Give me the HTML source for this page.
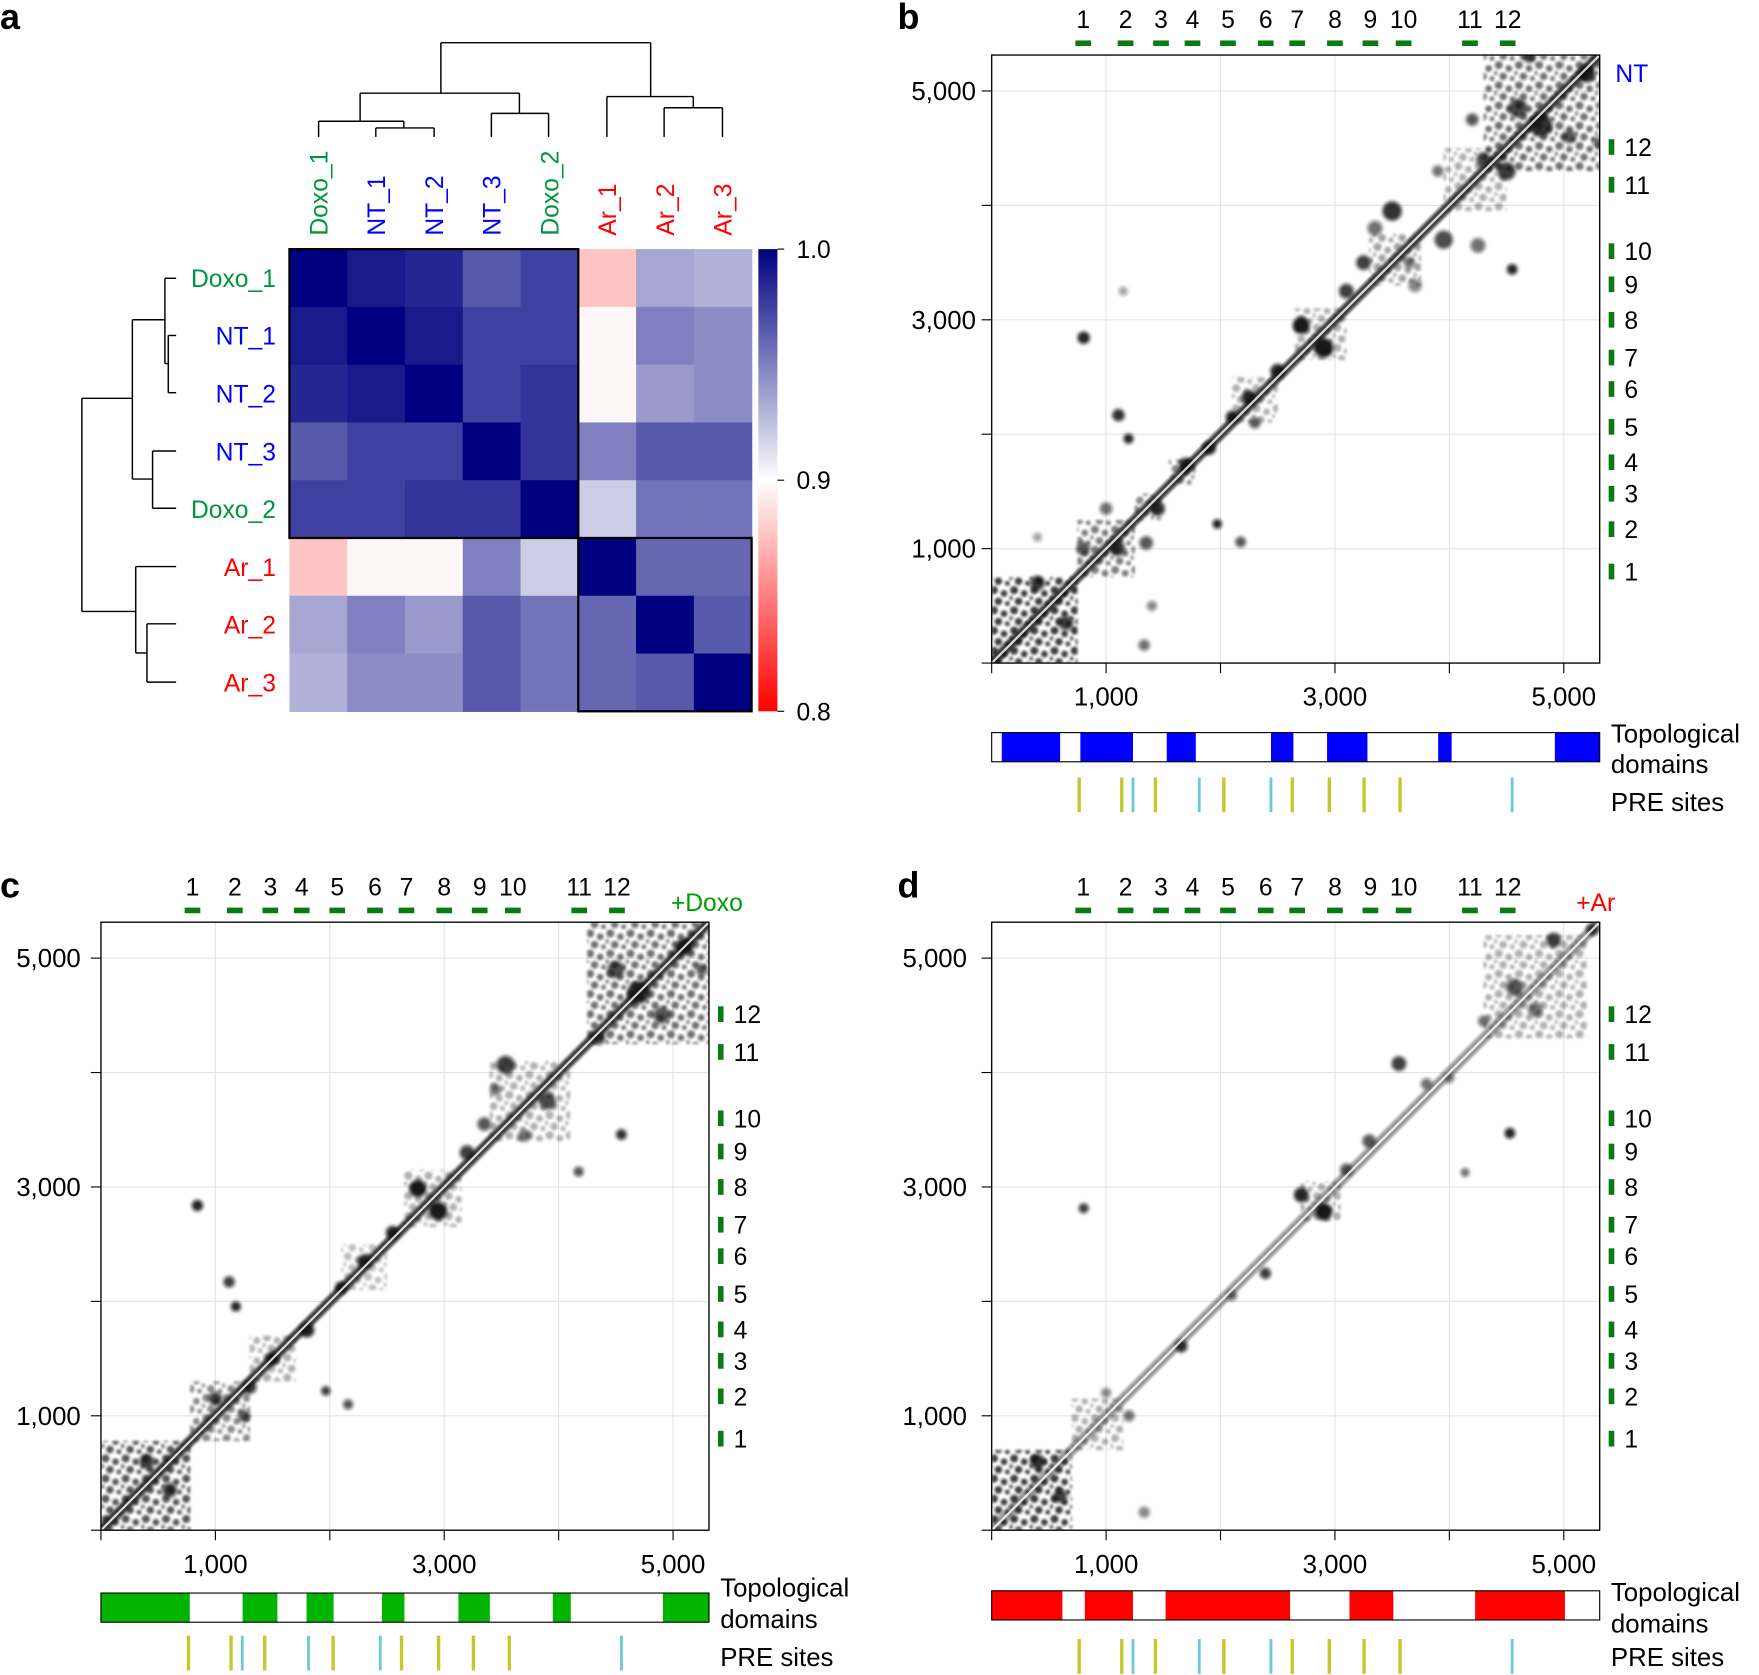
<!DOCTYPE html>
<html><head><meta charset="utf-8">
<style>
html,body{margin:0;padding:0;background:#fff;}
svg{display:block;font-family:"Liberation Sans",sans-serif;}
</style></head>
<body>
<svg id="fig" width="1759" height="1675" viewBox="0 0 1568 1493" xmlns="http://www.w3.org/2000/svg">
<defs>
<filter id="blur1" x="-50%" y="-50%" width="200%" height="200%"><feGaussianBlur stdDeviation="1.2"/></filter>
<filter id="blur2" x="-50%" y="-50%" width="200%" height="200%"><feGaussianBlur stdDeviation="1.6"/></filter>
<pattern id="speck" width="18" height="18" patternUnits="userSpaceOnUse">
<circle cx="4" cy="4" r="3.6" fill="#111"/><circle cx="13" cy="7" r="3" fill="#111"/>
<circle cx="8" cy="14" r="3.4" fill="#111"/><circle cx="16" cy="16" r="2.2" fill="#111"/>
<circle cx="1" cy="11" r="1.8" fill="#111"/>
</pattern>
<linearGradient id="cbar" x1="0" y1="1" x2="0" y2="0">
<stop offset="0" stop-color="#ff0000"/><stop offset="0.5" stop-color="#ffffff"/><stop offset="1" stop-color="#000080"/>
</linearGradient>
</defs>
<text x="0" y="26" font-size="32" font-weight="bold">a</text>
<text x="800" y="26" font-size="32" font-weight="bold">b</text>
<text x="0" y="800" font-size="32" font-weight="bold">c</text>
<text x="800" y="800" font-size="32" font-weight="bold">d</text>
<g id="pa"></g>
<g id="pb"></g>
<g id="pc"></g>
<g id="pd"></g>
</svg>
<script>
// ---------- Panel a data ----------
const samples = ['Doxo_1','NT_1','NT_2','NT_3','Doxo_2','Ar_1','Ar_2','Ar_3'];
const sampleGroup = ['doxo','nt','nt','nt','doxo','ar','ar','ar'];
const corrRows = [
 [1.0,0.99,0.985,0.965,0.975,0.877,0.935,0.93],
 [0.99,1.0,0.99,0.975,0.975,0.897,0.95,0.945],
 [0.985,0.99,1.0,0.975,0.98,0.897,0.94,0.945],
 [0.965,0.975,0.975,1.0,0.98,0.95,0.965,0.965],
 [0.975,0.975,0.98,0.98,1.0,0.92,0.955,0.955],
 [0.877,0.897,0.897,0.95,0.92,1.0,0.96,0.96],
 [0.935,0.95,0.94,0.965,0.955,0.96,1.0,0.965],
 [0.93,0.945,0.945,0.965,0.955,0.96,0.965,1.0]
];
const colorbarTicks = [0.8,0.9,1.0];
const colorbarLabels = ['0.8','0.9','1.0'];

// ---------- Hi-C shared data ----------
const tadMarkers = [800,1170,1480,1755,2065,2395,2670,3000,3310,3600,4180,4510];
const tadLabels = ['1','2','3','4','5','6','7','8','9','10','11','12'];
const preOlive = [765,1137,1431,2029,2627,2951,3255,3569];
const preCyan = [1235,1814,2441,4549];
const axisTicks = [0,1000,2000,3000,4000,5000];
const axisTickLabels = ['','1,000','','3,000','','5,000'];

const domainsB = [[88,598],[775,1235],[1530,1784],[2441,2637],[2931,3284],[3902,4020],[4922,5314]];
const domainsC = [[0,776],[1238,1542],[1797,2033],[2456,2652],[3124,3399],[3949,4106],[4912,5314]];
const domainsD = [[0,618],[814,1235],[1520,2608],[3127,3510],[4225,5010]];

// blocks: [start,end,alpha]
const blocksB = [[0,750,0.8],[750,1250,0.55],[1250,1480,0.5],[1550,1780,0.5],[4300,5314,0.6],[3950,4500,0.35],[3300,3750,0.4],[2650,3100,0.35],[2100,2500,0.3]];
const blocksC = [[0,780,0.7],[780,1300,0.5],[1300,1700,0.35],[4250,5314,0.6],[3400,4100,0.35],[2650,3150,0.35],[2100,2500,0.25]];
const blocksD = [[0,700,0.8],[700,1150,0.3],[4300,5200,0.35],[2700,3050,0.3]];

// spots: [x,y,size,alpha]
const spotsB = [[804,2843,70,0.9],[1108,2167,70,0.85],[1196,1961,50,0.9],[1971,1216,45,0.9],[2176,1059,55,0.7],[4549,3441,55,0.9],
 [3500,3950,130,0.85],[3350,3800,90,0.6],[2706,2951,110,0.95],[2902,2755,130,0.95],[2500,2550,90,0.9],[2250,2320,90,0.9],
 [2100,2150,70,0.9],[1900,1880,80,0.9],[1700,1730,90,0.9],[3950,3700,120,0.75],[4250,3650,90,0.6],[5200,5150,110,0.9],
 [4800,4700,160,0.85],[4600,4850,130,0.75],[1333,157,60,0.6],[4300,4400,90,0.75],[4200,4750,70,0.7],[5300,4550,60,0.6],
 [3100,3250,90,0.8],[3250,3500,90,0.8],[3700,3300,80,0.5],[1350,1050,80,0.7],[1000,1350,70,0.6],[400,700,90,0.8],[650,350,90,0.8],
 [2300,2100,60,0.7],[4700,5300,70,0.8],[5050,4600,80,0.7],[3900,4300,60,0.6],[1150,3250,40,0.4],[3650,3500,60,0.6],[400,1100,40,0.4],
 [1450,1350,90,0.85],[1100,1000,90,0.85],[800,1000,80,0.7],[1400,500,50,0.5],[4500,4300,120,0.8]];
const spotsC = [[843,2838,60,0.9],[1120,2170,60,0.8],[1179,1955,50,0.9],[1965,1218,45,0.8],[2160,1100,50,0.7],[4548,3458,55,0.85],
 [4175,3134,50,0.7],[3536,4067,120,0.8],[2770,2986,110,0.95],[2947,2790,120,0.95],[2550,2600,80,0.9],[2300,2350,80,0.9],
 [2100,2120,70,0.9],[1800,1750,90,0.9],[1500,1500,80,0.85],[3900,3750,110,0.75],[5100,5100,110,0.9],[4700,4700,160,0.85],
 [4500,4900,110,0.75],[4900,4500,110,0.7],[3200,3300,90,0.8],[3350,3550,80,0.7],[400,600,90,0.8],[600,350,90,0.8],[1000,1150,80,0.8],
 [1250,1000,70,0.7],[3700,3450,70,0.6],[4350,4300,80,0.7],[5250,4900,60,0.7],[3450,3850,60,0.6],[1300,1250,80,0.8]];
const spotsD = [[804,2814,50,0.8],[2902,2784,110,0.95],[2706,2931,90,0.9],[4529,3470,55,0.9],[3559,4078,90,0.8],[2392,2245,60,0.8],
 [1657,1608,70,0.85],[4137,3127,40,0.6],[4912,5157,90,0.8],[5250,5250,70,0.8],[4569,4745,110,0.7],[4750,4550,90,0.6],[3300,3400,80,0.7],
 [3100,3150,70,0.7],[2100,2050,50,0.6],[1200,1000,60,0.6],[1000,1200,50,0.5],[400,600,90,0.85],[600,300,80,0.8],[3800,3900,60,0.6],
 [4300,4450,60,0.6],[1333,157,60,0.5],[4000,3950,50,0.5]];
const diagAlpha = {b:0.8, c:0.8, d:0.45};

const NS='http://www.w3.org/2000/svg';
function mk(parent, tag, attrs, text){
  const e=document.createElementNS(NS,tag);
  for(const k in attrs) e.setAttribute(k,attrs[k]);
  if(text!==undefined) e.textContent=text;
  parent.appendChild(e); return e;
}

// ---------- Panel a ----------
(function(){
  const g=document.getElementById('pa');
  const x0=258,y0=222,cell=51.5;
  const colX=i=>x0+i*cell, rowY=i=>y0+i*cell;
  const grpColor={doxo:'#00963c',nt:'#0000ff',ar:'#ff0000'};
  function corrColor(v){
    let t;
    if(v>=0.9){t=(v-0.9)/0.1; return `rgb(${Math.round(255*(1-t))},${Math.round(255*(1-t))},${Math.round(255-127*t)})`;}
    t=(0.9-v)/0.1; return `rgb(255,${Math.round(255*(1-t))},${Math.round(255*(1-t))})`;
  }
  corrRows.forEach((row,r)=>row.forEach((v,c)=>{
    const el=mk(g,'rect',{x:colX(c),y:rowY(r),width:cell+0.6,height:cell+0.6,fill:corrColor(v)});
    
    
  }));
  const b1=mk(g,'rect',{x:colX(0),y:rowY(0),width:cell*5,height:cell*5,fill:'none',stroke:'#000','stroke-width':2});
  
  
  const b2=mk(g,'rect',{x:colX(5),y:rowY(5),width:cell*3,height:cell*3,fill:'none',stroke:'#000','stroke-width':2});
  
  
  samples.forEach((s,i)=>{
    const cx=colX(i)+cell/2+8;
    const t=mk(g,'text',{x:0,y:0,transform:`translate(${cx},210) rotate(-90)`,'font-size':22,fill:grpColor[sampleGroup[i]]},s);
    
    
    const r=mk(g,'text',{x:246,y:rowY(i)+cell/2+8,'text-anchor':'end','font-size':22,fill:grpColor[sampleGroup[i]]},s);
    
    
  });
  const cb=mk(g,'rect',{x:676,y:y0,width:17,height:cell*8,fill:'url(#cbar)'});
  
  
  const cbY=v=>y0+cell*8-(v-0.8)/0.2*cell*8;
  colorbarTicks.forEach((v,i)=>{
    mk(g,'line',{x1:693,x2:699,y1:cbY(v),y2:cbY(v),stroke:'#000','stroke-width':1});
    const t=mk(g,'text',{x:710,y:cbY(v)+8,'font-size':22},colorbarLabels[i]);
    
    
  });
  const top=[[393,38,580,38],[393,38,393,83],[580,38,580,86],[321,83,463,83],[321,83,321,108],[463,83,463,101],
    [284,108,360,108],[284,108,284,122],[360,108,360,114],[335,114,387,114],[335,114,335,122],[387,114,387,122],
    [438,101,489,101],[438,101,438,122],[489,101,489,122],[541,86,618,86],[541,86,541,122],[618,86,618,96],
    [592,96,644,96],[592,96,592,122],[644,96,644,122]];
  const left=[[73,355,73,545],[73,355,118,355],[73,545,121,545],[118,285,118,427],[118,285,147,285],[118,427,136,427],
    [147,248,147,324],[147,248,157,248],[147,324,150,324],[150,299,150,350],[150,299,157,299],[150,350,157,350],
    [136,402,136,453],[136,402,157,402],[136,453,157,453],[121,505,121,582],[121,505,157,505],[121,582,131,582],
    [131,556,131,608],[131,556,157,556],[131,608,157,608]];
  const dg=mk(g,'g',{stroke:'#000','stroke-width':1.3});
  
  
  top.concat(left).forEach(s=>mk(dg,'line',{x1:s[0],y1:s[1],x2:s[2],y2:s[3]}));
})();

// ---------- Hi-C panels ----------
function hicPanel(id,key,px,py,blocks,spots,domains,domColor,barY,preY,labelY,tag,tagColor,tagX,tagY,yLabelRight){
  const g=document.getElementById(id);
  const S=542,MAX=5314;
  const X=v=>px+v*S/MAX, Y=v=>py+S-v*S/MAX, L=v=>v*S/MAX;
  const clipId='clip'+key;
  const cp=mk(g,'clipPath',{id:clipId}); mk(cp,'rect',{x:px,y:py,width:S,height:S});
  const inner=mk(g,'g',{'clip-path':`url(#${clipId})`});
  axisTicks.forEach(t=>{
    if(t===0) return;
    mk(inner,'line',{x1:X(t),x2:X(t),y1:py,y2:py+S,stroke:'#e4e4e4','stroke-width':1});
    mk(inner,'line',{x1:px,x2:px+S,y1:Y(t),y2:Y(t),stroke:'#e4e4e4','stroke-width':1});
  });
  const bl=mk(inner,'g',{filter:'url(#blur1)'});
  blocks.forEach(b=>{
    const r=mk(bl,'rect',{x:X(b[0]),y:Y(b[1]),width:L(b[1]-b[0]),height:L(b[1]-b[0]),fill:'url(#speck)','fill-opacity':b[2]});
    
    
  });
  const sp=mk(inner,'g',{filter:'url(#blur2)'});
  spots.forEach(s=>{
    const c=mk(sp,'circle',{cx:X(s[0]),cy:Y(s[1]),r:L(s[2])/2+2,fill:'#111','fill-opacity':s[3]});
    
    
  });
  const dl=mk(inner,'line',{x1:X(0),y1:Y(0),x2:X(MAX),y2:Y(MAX),stroke:'#111','stroke-opacity':diagAlpha[key],'stroke-width':9,filter:'url(#blur1)'});
  
  
  mk(inner,'line',{x1:X(0),y1:Y(0),x2:X(MAX),y2:Y(MAX),stroke:'#fff','stroke-opacity':0.8,'stroke-width':2});
  const fr=mk(g,'rect',{x:px,y:py,width:S,height:S,fill:'none',stroke:'#000','stroke-width':1.2});
  
  
  axisTicks.forEach((t,i)=>{
    mk(g,'line',{x1:X(t),x2:X(t),y1:py+S,y2:py+S+9,stroke:'#000'});
    mk(g,'line',{x1:px-9,x2:px,y1:Y(t),y2:Y(t),stroke:'#000'});
    if(axisTickLabels[i]){
      const tx=mk(g,'text',{x:X(t),y:py+S+38,'text-anchor':'middle','font-size':23},axisTickLabels[i]);
      
      
      const ty=mk(g,'text',{x:yLabelRight,y:Y(t)+8,'text-anchor':'end','font-size':23},axisTickLabels[i]);
      
      
    }
  });
  tadMarkers.forEach((m,i)=>{
    const d=mk(g,'rect',{x:X(m)-7,y:py-13,width:14,height:5,fill:'#0a7a12'});
    
    
    const t=mk(g,'text',{x:X(m),y:py-24,'text-anchor':'middle','font-size':22},tadLabels[i]);
    
    
    const r=mk(g,'rect',{x:px+S+8,y:Y(m)-7,width:5,height:14,fill:'#0a7a12'});
    
    
    const rt=mk(g,'text',{x:px+S+22,y:Y(m)+8,'font-size':22},tadLabels[i]);
    
    
  });
  const bar=mk(g,'g',{});
  
  
  domains.forEach(d=>{
    const r=mk(bar,'rect',{x:X(d[0]),y:barY,width:L(Math.min(d[1],MAX)-d[0]),height:26,fill:domColor});
    
    
  });
  mk(bar,'rect',{x:px,y:barY,width:S,height:26,fill:'none',stroke:'#000','stroke-width':1});
  preOlive.forEach(p=>{
    const l=mk(g,'line',{x1:X(p),x2:X(p),y1:preY,y2:preY+31,stroke:'#c3c82c','stroke-width':3});
    
    
  });
  preCyan.forEach(p=>{
    const l=mk(g,'line',{x1:X(p),x2:X(p),y1:preY,y2:preY+31,stroke:'#6cc8dc','stroke-width':2.5});
    
    
  });
  const lx=px+S+10;
  const t1=mk(g,'text',{x:lx,y:labelY[0],'font-size':23},'Topological');
   
  mk(g,'text',{x:lx,y:labelY[1],'font-size':23},'domains');
  const t2=mk(g,'text',{x:lx,y:labelY[2],'font-size':23},'PRE sites');
   
  const tg=mk(g,'text',{x:tagX,y:tagY,'font-size':22,fill:tagColor},tag);
  
  
}
hicPanel('pb','b',884,49,blocksB,spotsB,domainsB,'#0000ff',653,693,[662,689,723],'NT','#0000ff',1440,73,870);
hicPanel('pc','c',90,822,blocksC,spotsC,domainsC,'#00b400',1420,1458,[1423,1451,1485],'+Doxo','#00a000',598,812,72);
hicPanel('pd','d',884,822,blocksD,spotsD,domainsD,'#ff0000',1418,1461,[1427,1455,1485],'+Ar','#ff0000',1405,812,862);
</script>
</body></html>
